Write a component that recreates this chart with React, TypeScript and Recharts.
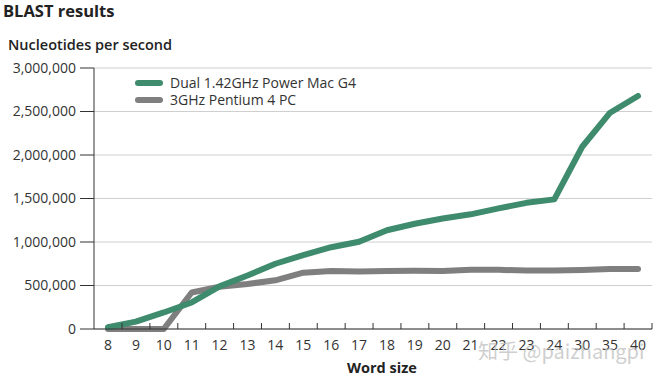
import React from 'react';
import { LineChart, Line, XAxis, YAxis, CartesianGrid } from 'recharts';

const wordSizes = ['8', '9', '10', '11', '12', '13', '14', '15', '16', '17', '18', '19', '20', '21', '22', '23', '24', '30', '35', '40'];

const powerMacG4 = [20000, 85000, 190000, 305000, 490000, 615000, 750000, 850000, 940000, 1003000, 1135000, 1210000, 1270000, 1318000, 1387000, 1450000, 1490000, 2095000, 2486000, 2678000];

const pentium4 = [0, 0, 0, 420000, 485000, 517000, 560000, 647000, 668000, 662000, 668000, 670000, 668000, 680000, 680000, 672000, 672000, 678000, 690000, 690000];

const yTicks = [0, 500000, 1000000, 1500000, 2000000, 2500000, 3000000];

const GREEN = '#3f8b6d';
const GRAY = '#7f7f7f';
const FONT = '"Open Sans", sans-serif';

const data = wordSizes.map((size, i) => ({
  size,
  g4: powerMacG4[i],
  p4: pentium4[i],
}));

const legendItems = [
  { label: 'Dual 1.42GHz Power Mac G4', color: GREEN },
  { label: '3GHz Pentium 4 PC', color: GRAY },
];

// label at the point, tick mark at the boundary to the right, pointing up
const XTick = (props: any) => {
  const { x, y, payload } = props;
  return (
    <g>
      <line x1={x + 14} x2={x + 14} y1={y - 6} y2={y} stroke="#333" strokeWidth={1} />
      <text x={x} y={y + 21} textAnchor="middle" fontSize={14} fill="#333" fontFamily={FONT}>
        {payload.value}
      </text>
    </g>
  );
};

export default function App() {
  return (
    <div style={{ position: 'absolute', left: 0, top: 0, width: 660, height: 387, background: '#fff', fontFamily: FONT }}>
      <div style={{ position: 'absolute', left: 3, top: 1, fontSize: 16.5, lineHeight: '20px', fontWeight: 700, color: '#222' }}>BLAST results</div>
      <div style={{ position: 'absolute', left: 8, top: 35, fontSize: 14.5, lineHeight: '20px', fontWeight: 600, color: '#222' }}>Nucleotides per second</div>
      <LineChart width={660} height={387} data={data} margin={{ top: 68, right: 8, bottom: 0, left: 0 }}>
        <CartesianGrid horizontal vertical={false} stroke="#cfcfcf" />
        <XAxis
          dataKey="size"
          type="category"
          interval={0}
          padding={{ left: 14, right: 14 }}
          axisLine={{ stroke: '#333' }}
          tickLine={false}
          tickSize={0}
          tickMargin={0}
          tick={<XTick />}
          height={58}
        />
        <YAxis
          width={94}
          domain={[0, 3000000]}
          ticks={yTicks}
          interval={0}
          tickSize={14}
          tickMargin={4}
          axisLine={{ stroke: '#333' }}
          tickLine={{ stroke: '#333' }}
          tick={{ fontSize: 14, fill: '#333', fontFamily: FONT }}
          tickFormatter={(v: number) => v.toLocaleString('en-US')}
        />
        <Line dataKey="p4" stroke={GRAY} strokeWidth={6} strokeLinecap="round" strokeLinejoin="round" dot={false} isAnimationActive={false} />
        <Line dataKey="g4" stroke={GREEN} strokeWidth={6} strokeLinecap="round" strokeLinejoin="round" dot={false} isAnimationActive={false} />
      </LineChart>
      <div style={{ position: 'absolute', left: 135, top: 74, fontSize: 14, color: '#333' }}>
        {legendItems.map((item) => (
          <div key={item.label} style={{ display: 'flex', alignItems: 'center', height: 17 }}>
            <span style={{ display: 'inline-block', width: 28, height: 6, borderRadius: 3, background: item.color, marginRight: 7 }} />
            <span>{item.label}</span>
          </div>
        ))}
      </div>
      <div style={{ position: 'absolute', left: 347, top: 358, fontSize: 14.5, lineHeight: '20px', fontWeight: 700, color: '#222' }}>Word size</div>
      <div style={{ position: 'absolute', left: 478, top: 337, fontSize: 20, lineHeight: '28px', color: 'rgba(190,190,190,0.75)', fontFamily: '"Noto Sans CJK SC", sans-serif' }}>知乎 @paizhangpi</div>
    </div>
  );
}
